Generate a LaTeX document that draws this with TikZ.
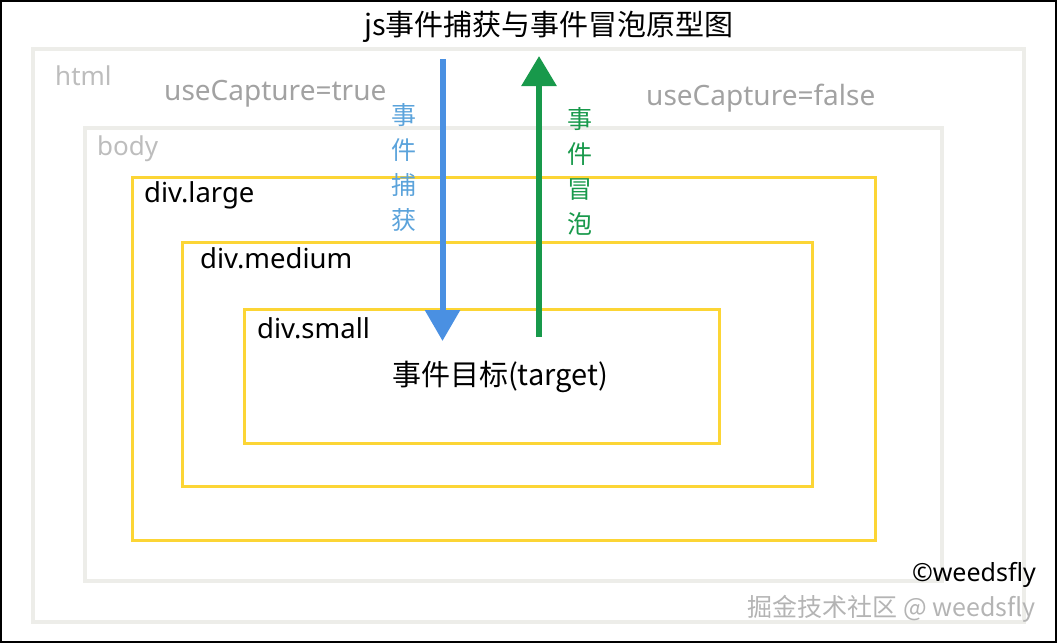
\documentclass[tikz,border=0pt]{standalone}
\usepackage{fontspec}
\setmainfont{Noto Sans}
\newfontfamily\cjk{Noto Sans CJK SC}
\usetikzlibrary{arrows.meta}
\definecolor{boxgray}{HTML}{EDEDE9}
\definecolor{divyellow}{HTML}{FCD535}
\definecolor{capblue}{HTML}{4A90E2}
\definecolor{captext}{HTML}{5BA3DB}
\definecolor{bubgreen}{HTML}{18994B}
\definecolor{lblgray}{HTML}{BDBDBD}
\definecolor{ucgray}{HTML}{A2A2A2}
\definecolor{wmgray}{HTML}{B4B4B4}
\tikzset{
  graybox/.style={draw=boxgray, line width=4pt},
  yelbox/.style={draw=divyellow, line width=3pt},
  lbl/.style={inner sep=0pt, anchor=base west},
  grylbl/.style={lbl, text=lblgray, font=\fontsize{26}{26}\selectfont},
  uclbl/.style={lbl, text=ucgray, font=\fontsize{28}{28}\selectfont},
  divlbl/.style={lbl, text=black, font=\fontsize{27.5}{27.5}\selectfont},
  vlbl/.style={inner sep=0pt, align=center, font=\cjk\fontsize{25}{35}\selectfont},
}
\begin{document}
\begin{tikzpicture}[x=1pt, y=-1pt]
\useasboundingbox (0,0) rectangle (1057,643);
\draw[line width=2pt] (1,1) rectangle (1056,642);
% boxes
\draw[graybox] (33,49) rectangle (1024,622);
\draw[graybox] (85,128) rectangle (942,581);
\draw[yelbox] (132,177) rectangle (875,540);
\draw[yelbox] (182,242) rectangle (812,486);
\draw[yelbox] (244,309) rectangle (719,443);
% title
\node[inner sep=0pt, font=\cjk\fontsize{29}{29}\selectfont] (title) at (549,27) {js事件捕获与事件冒泡原型图};
% labels
\node[grylbl] (html) at (55,85) {html};
\node[uclbl] (uct) at (164,100) {useCapture=true};
\node[uclbl] (ucf) at (646,105) {useCapture=false};
\node[grylbl] (body) at (97,155) {body};
\node[divlbl] (dl) at (144,202) {div.large};
\node[divlbl] (dm) at (200,268) {div.medium};
\node[divlbl] (ds) at (257,338) {div.small};
\node[inner sep=0pt, font=\cjk\fontsize{29}{29}\selectfont] (target) at (500,377) {事件目标(target)};
% arrows
\coordinate (capS) at (442.5,59);
\coordinate (capE) at (442.5,341);
\coordinate (bubS) at (539,337);
\coordinate (bubE) at (539,56);
\draw[capblue, line width=6pt, -{Triangle[length=31pt,width=34pt]}] (capS) -- (capE);
\draw[bubgreen, line width=6pt, -{Triangle[length=30pt,width=34pt]}] (bubS) -- (bubE);
\node[vlbl, text=captext] (caplbl) at (404,168) {事\\件\\捕\\获};
\node[vlbl, text=bubgreen] (bublbl) at (580,171) {事\\件\\冒\\泡};
% credits
\node[inner sep=0pt, anchor=base east, font=\fontsize{25}{25}\selectfont] (copy) at (1036,581) {©weedsfly};
\node[inner sep=0pt, anchor=base east, text=wmgray, font=\cjk\fontsize{25}{25}\selectfont] (wm) at (1036,616) {掘金技术社区 @ weedsfly};
\end{tikzpicture}
\end{document}
